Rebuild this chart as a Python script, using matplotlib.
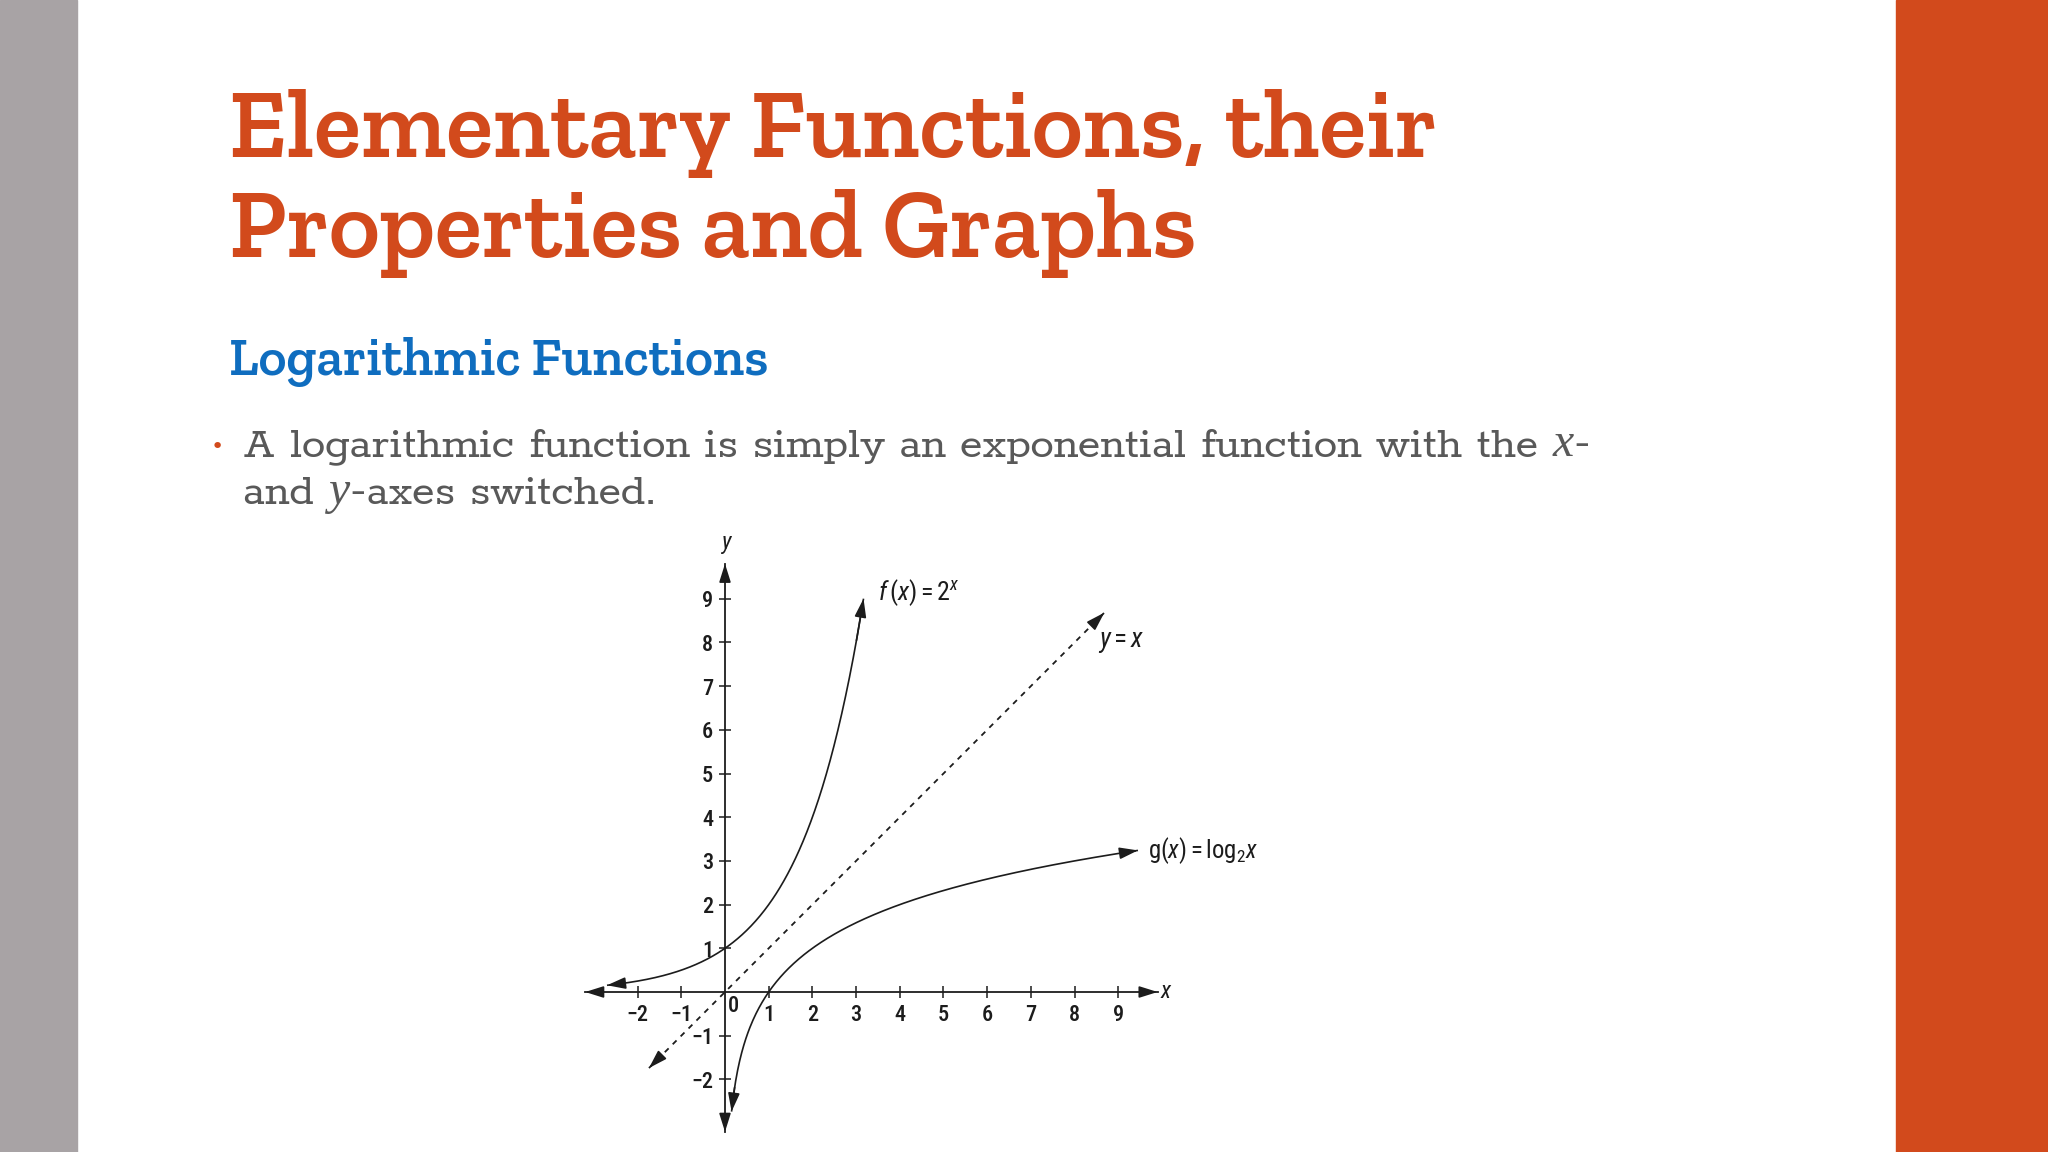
import numpy as np
import matplotlib
matplotlib.use("Agg")
import matplotlib.pyplot as plt

# slide text
title_lines = ["Elementary Functions, their", "Properties and Graphs"]
subtitle = "Logarithmic Functions"
body_lines = [
    [("A logarithmic function is simply an exponential function with the ", "normal"), ("x", "italic"), ("-", "normal")],
    [("and ", "normal"), ("y", "italic"), ("-axes switched.", "normal")],
]

# chart data (domains)
x_ticks = [-2, -1, 1, 2, 3, 4, 5, 6, 7, 8, 9]
y_ticks = [-2, -1, 1, 2, 3, 4, 5, 6, 7, 8, 9]
f_domain = (-2.7, 3.17)
g_domain = (0.15, 9.45)
line_domain = (-1.74, 8.68)
x_axis_ends = (-3.2, 9.9)
y_axis_ends = (-3.2, 9.8)
f_label = r"$f\,(x) = 2^{x}$"
g_label = r"$\mathrm{g}(x) = \mathrm{log}_{2}x$"
line_label = r"$y = x$"

W, H = 2048, 1152
ORANGE = "#D24A1C"
GRAY_BAR = "#A8A3A5"
BLUE = "#0F6DBF"
TEXT_GRAY = "#595959"
INK = "#1c1c1c"

HEAD = ["Zilla Slab", "DejaVu Serif"]
BODY = ["Rokkitt", "DejaVu Serif"]
COND = ["Roboto Condensed", "DejaVu Sans"]

plt.rcParams["mathtext.fontset"] = "custom"
plt.rcParams["mathtext.rm"] = "Roboto Condensed"
plt.rcParams["mathtext.it"] = "Roboto Condensed:italic"

fig = plt.figure(figsize=(W / 100, H / 100), dpi=100)
fig.patch.set_facecolor("white")
fig.patches.append(plt.Rectangle((0, 0), 77 / W, 1, transform=fig.transFigure, color=GRAY_BAR, zorder=0))
fig.patches.append(plt.Rectangle((1896 / W, 0), 1 - 1896 / W, 1, transform=fig.transFigure, color=ORANGE, zorder=0))

renderer = fig.canvas.get_renderer()


def fit_width(t, target_px):
    w = t.get_window_extent(renderer).width
    t.set_fontsize(t.get_fontsize() * target_px / w)


# title
t1 = fig.text(229 / W, 1 - 157 / H, title_lines[0], family=HEAD, weight="semibold", color=ORANGE,
              fontsize=66, va="baseline")
fit_width(t1, 1208)
fig.text(229 / W, 1 - 257 / H, title_lines[1], family=HEAD, weight="semibold", color=ORANGE,
         fontsize=t1.get_fontsize(), va="baseline")

st = fig.text(229 / W, 1 - 375 / H, subtitle, family=HEAD, weight="semibold", color=BLUE, fontsize=36, va="baseline")
fit_width(st, 539)

# bullet text, drawn run by run so the axis letters can be italic
fig.text(217 / W, 1 - 447 / H, "\u2022", color=ORANGE, fontsize=16, ha="center", va="center", family="DejaVu Sans")


def draw_runs(runs, x, base, size):
    texts = []
    for s, style in runs:
        if style == "italic":
            t = fig.text(x / W, 1 - base / H, s, family="Liberation Serif", style="italic",
                         color=TEXT_GRAY, fontsize=size, va="baseline")
        else:
            t = fig.text(x / W, 1 - base / H, s, family=BODY, color=TEXT_GRAY, fontsize=size, va="baseline")
        x += t.get_window_extent(renderer).width
        texts.append(t)
    return x, texts


end, trial = draw_runs(body_lines[0], 243, 456, 27)
for t in trial:
    t.remove()
body_size = 27 * 1350 / (end - 243)
for runs, base in zip(body_lines, [456, 504]):
    draw_runs(runs, 243, base, body_size)

# chart axes: 1 unit = 43.7 px, origin at (725, 992) px from top-left
u, ox, oy = 43.7, 725, 992
xlim = (-3.6, 10.6)
ylim = (-3.6, 10.6)
left = ox + xlim[0] * u
bottom = H - oy + ylim[0] * u
ax = fig.add_axes([left / W, bottom / H, (xlim[1] - xlim[0]) * u / W, (ylim[1] - ylim[0]) * u / H])
ax.set_xlim(*xlim)
ax.set_ylim(*ylim)
ax.patch.set_alpha(0)
for side in ["top", "right"]:
    ax.spines[side].set_visible(False)
ax.spines["left"].set_position("zero")
ax.spines["bottom"].set_position("zero")
ax.spines["bottom"].set_bounds(*x_axis_ends)
ax.spines["left"].set_bounds(*y_axis_ends)
for sp in ["left", "bottom"]:
    ax.spines[sp].set_linewidth(1.3)
    ax.spines[sp].set_color(INK)
ax.set_xticks(x_ticks)
ax.set_yticks(y_ticks)
ax.set_xticklabels([str(v).replace("-", "\u2212") for v in x_ticks])
ax.set_yticklabels([str(v).replace("-", "\u2212") for v in y_ticks])
ax.tick_params(direction="inout", length=9, width=1.1, color=INK, labelsize=16, labelcolor=INK, pad=4)
for lab in ax.get_xticklabels() + ax.get_yticklabels():
    lab.set_family(COND)
    lab.set_weight("medium")
ax.text(0.2, -0.33, "0", family=COND, weight="medium", fontsize=16, color=INK, ha="center", va="center")
ax.text(10.1, 0.02, r"$x$", fontsize=17, color=INK, ha="center", va="center")
ax.text(0.03, 10.25, r"$y$", fontsize=17, color=INK, ha="center", va="center")

head = dict(arrowstyle="-|>,head_width=0.22,head_length=0.7", mutation_scale=16, color=INK, lw=1.2,
            shrinkA=0, shrinkB=0)


def arrow(tip, tail):
    ax.annotate("", xy=tip, xytext=tail, arrowprops=head)


# axis arrowheads
arrow((x_axis_ends[1], 0), (x_axis_ends[1] - 0.3, 0))
arrow((x_axis_ends[0], 0), (x_axis_ends[0] + 0.3, 0))
arrow((0, y_axis_ends[1]), (0, y_axis_ends[1] - 0.3))
arrow((0, y_axis_ends[0]), (0, y_axis_ends[0] + 0.3))

# curves
fx = np.linspace(*f_domain, 400)
fy = np.power(2.0, fx)
gx = np.linspace(*g_domain, 400)
gy = np.log2(gx)
lx = np.array(line_domain)

ax.plot(fx, fy, color=INK, lw=1.2, solid_capstyle="butt")
ax.plot(gx, gy, color=INK, lw=1.2, solid_capstyle="butt")
ax.plot(lx, lx, color=INK, lw=1.3, linestyle=(0, (3, 3.2)))

arrow((fx[-1], fy[-1]), (fx[-12], fy[-12]))
arrow((fx[0], fy[0]), (fx[20], fy[20]))
arrow((gx[-1], gy[-1]), (gx[-12], gy[-12]))
arrow((gx[0], gy[0]), (gx[3], gy[3]))
arrow((lx[1], lx[1]), (lx[1] - 0.2, lx[1] - 0.2))
arrow((lx[0], lx[0]), (lx[0] + 0.2, lx[0] + 0.2))

fl = ax.text(3.5, 9.13, f_label, fontsize=17, color=INK, ha="left", va="center")
fit_width(fl, 82)
ll = ax.text(8.53, 8.0, line_label, fontsize=17, color=INK, ha="left", va="center")
fit_width(ll, 47)
gl = ax.text(9.67, 3.23, g_label, fontsize=17, color=INK, ha="left", va="center")
fit_width(gl, 110)

fig.savefig("out.png", dpi=100)
